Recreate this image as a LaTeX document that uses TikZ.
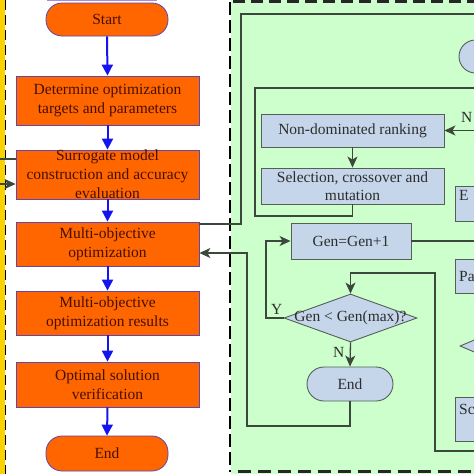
\documentclass[tikz,border=0pt]{standalone}
\usepackage{fontspec}
\setmainfont{Liberation Serif}
\usetikzlibrary{arrows.meta,shapes.geometric,calc}

\definecolor{orfill}{RGB}{255,102,0}
\definecolor{orline}{RGB}{100,70,170}
\definecolor{ortext}{RGB}{70,15,0}
\definecolor{blarrow}{RGB}{20,20,240}
\definecolor{gbg}{RGB}{204,255,204}
\definecolor{bxfill}{RGB}{197,214,234}
\definecolor{bxline}{RGB}{85,95,85}
\definecolor{dline}{RGB}{60,72,60}
\definecolor{ylw}{RGB}{250,210,0}
\definecolor{txt}{RGB}{45,45,45}
\definecolor{lav}{RGB}{170,140,220}

\begin{document}
\begin{tikzpicture}[x=1pt,y=-1pt,
  font=\fontsize{15.5pt}{19pt}\selectfont,
  obox/.style={draw=orline,line width=0.8pt,fill=orfill,text=ortext,minimum width=183pt,inner sep=0pt,align=center},
  oterm/.style={obox,minimum width=122pt,rounded corners=16pt},
  gbox/.style={draw=bxline,line width=0.9pt,fill=bxfill,text=txt,inner sep=0pt,align=center},
  gdia/.style={diamond,draw=bxline,line width=0.9pt,fill=bxfill,text=txt,inner sep=0pt},
  barrow/.style={draw=blarrow,line width=2pt,-{Triangle[length=11pt,width=11pt]}},
  garrow/.style={draw=dline,line width=1.3pt,-{Stealth[length=11pt,width=10pt,inset=3pt]}},
  gline/.style={draw=dline,line width=1.3pt},
  lbl/.style={text=txt,inner sep=0pt,anchor=base west},
]
\useasboundingbox (0,0) rectangle (474,474);
\clip (0,0) rectangle (474,474);

% backgrounds
\fill[white] (0,0) rectangle (474,474);
\fill[ylw] (0,0) rectangle (4.5,474);
\fill[gbg] (231,0) rectangle (474,474);
\draw[black,line width=1.8pt,dash pattern=on 10pt off 5pt] (5.5,0) -- (5.5,474);
\draw[black,line width=2pt,dash pattern=on 13pt off 5pt] (229.5,2) -- (229.5,472);
\draw[black!85,line width=3pt,dash pattern=on 12pt off 6pt] (233,1.5) -- (474,1.5);
\draw[black!85,line width=3pt,dash pattern=on 13pt off 7pt] (238,471) -- (474,471);
\draw[lav,line width=1.5pt] (47,0.5) -- (157,0.5);

% left flowchart
\node[oterm,minimum height=33pt] (start) at (107,19.5) {Start};
\node[obox,minimum height=49pt] (det) at (107.5,100.5) {Determine optimization\\targets and parameters};
\node[obox,minimum height=49pt] (sur) at (107.5,174.5) {Surrogate model\\construction and accuracy\\evaluation};
\node[obox,minimum height=44pt] (moo) at (107.5,244) {Multi-objective\\optimization};
\node[obox,minimum height=44pt] (mor) at (107.5,313) {Multi-objective\\optimization results};
\node[obox,minimum height=45pt] (osv) at (107.5,384.5) {Optimal solution\\verification};
\node[oterm,minimum height=35pt] (end) at (107,453.5) {End};

\draw[barrow] (start.south) -- (det.north);
\draw[barrow] (det.south) -- (sur.north);
\draw[barrow] (sur.south) -- (moo.north);
\draw[barrow] (moo.south) -- (mor.north);
\draw[barrow] (mor.south) -- (osv.north);
\draw[barrow] (osv.south) -- (end.north);

% left side connectors
\coordinate (lo1) at (0,159);
\coordinate (li1) at (0,184);
\draw[gline] (sur.west |- lo1) -- (lo1);
\draw[garrow] (li1) -- (sur.west |- li1);

% green region nodes
\node[gbox,minimum width=183pt,minimum height=33pt] (ndr) at (352.5,130.5) {Non-dominated ranking};
\node[gbox,minimum width=183pt,minimum height=36pt,font=\fontsize{15.5pt}{18pt}\selectfont] (sel) at (352.5,186) {Selection, crossover and\\mutation};
\node[gbox,minimum width=120pt,minimum height=36pt] (gen) at (351,241) {Gen=Gen+1};
\node[gdia,minimum width=133pt,minimum height=48pt] (dia) at (350.5,318) {\makebox[0pt]{Gen < Gen(max)?}};
\node[gbox,rounded corners=17pt,minimum width=86pt,minimum height=34pt] (gend) at (350,384) {End};

% partially visible nodes at right edge
\node[gbox,rounded corners=16.5pt,minimum width=70pt,minimum height=33pt] (gstart) at (494,56.5) {};
\node[gbox,minimum width=60pt,minimum height=35pt] (ebox) at (485,203.5) {};
\node[gbox,minimum width=60pt,minimum height=34pt] (pbox) at (485,276) {};
\node[gdia,minimum width=140pt,minimum height=60pt] (dia2) at (530,346) {};
\node[gbox,minimum width=60pt,minimum height=44pt] (sbox) at (485,419) {};
\node[lbl] (et) at (459,200) {E};
\node[lbl] (pt) at (459,281) {Pa};
\node[lbl] (st) at (459,414) {Sc};
\node[lbl] (nt) at (461,122) {N};
\node[lbl] (yl) at (271,314) {Y};
\node[lbl] (nl) at (333,357) {N};

% connectors in green region
\coordinate (c1) at (241,224);
\coordinate (c2) at (241,14);
\coordinate (c3) at (474,14);
\draw[gline] (moo.east |- c1) -- (c1) -- (c2) -- (c3);

\coordinate (s1) at (353,216);
\coordinate (s2) at (255,216);
\coordinate (s3) at (255,88);
\coordinate (s4) at (474,88);
\draw[gline] (sel.south) -- (sel.south |- s1) -- (s2) -- (s3) -- (s4);

\coordinate (n1) at (474,130.5);
\draw[garrow] (n1) -- (ndr.east);
\draw[garrow] (ndr.south) -- (sel.north);

\coordinate (g1) at (474,241);
\draw[gline] (gen.east) -- (g1);

\coordinate (y1) at (266,318);
\coordinate (y2) at (266,241);
\draw[garrow] (dia.west) -- (y1) -- (y2) -- (gen.west);

\coordinate (d1) at (474,451);
\coordinate (d2) at (435,451);
\coordinate (d3) at (435,273);
\draw[garrow] (d1) -- (d2) -- (d3) -- (d3 -| dia.north) -- (dia.north);

\draw[garrow] (dia.south) -- (gend.north);

\coordinate (e1) at (350,426);
\coordinate (e2) at (247,426);
\coordinate (e3) at (247,253);
\draw[garrow] (gend.south) -- (gend.south |- e1) -- (e2) -- (e3) -- (moo.east |- e3);
\end{tikzpicture}
\end{document}
